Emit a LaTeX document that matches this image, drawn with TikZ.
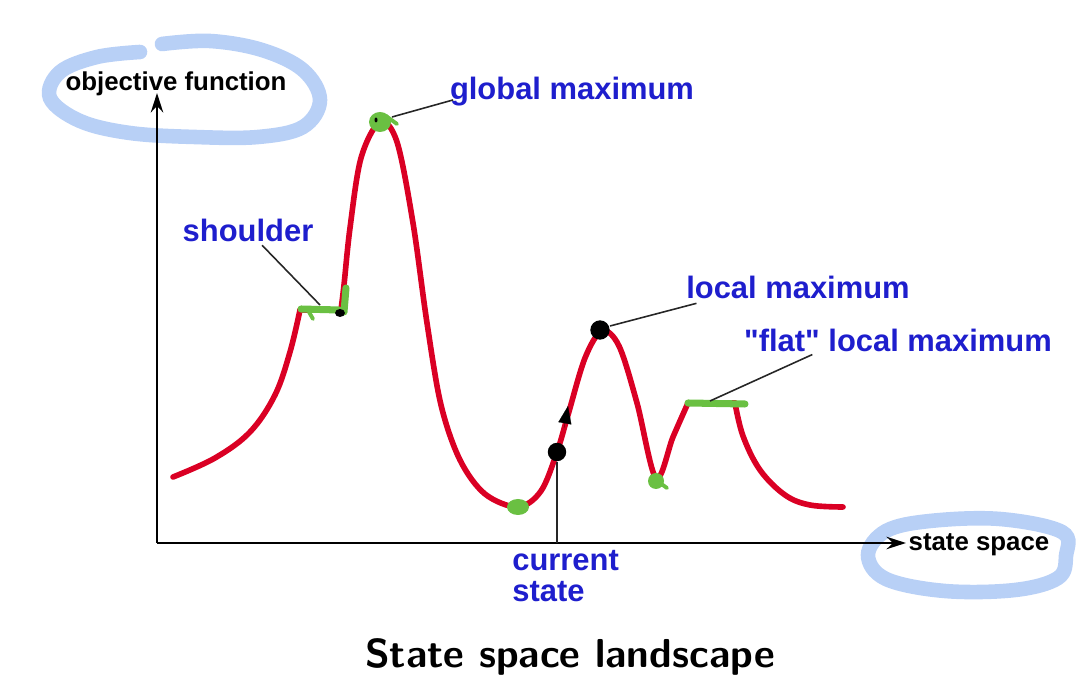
\documentclass[tikz,border=0pt]{standalone}
\usepackage{fontspec}
\setmainfont{Liberation Sans}
\usetikzlibrary{arrows.meta}
\definecolor{curvered}{RGB}{218,0,36}
\definecolor{labelblue}{RGB}{30,30,205}
\definecolor{hlgreen}{RGB}{106,192,66}
\definecolor{loopblue}{RGB}{184,208,246}
\begin{document}
\begin{tikzpicture}[x=0.02cm, y=-0.02cm,
    landscape/.style={curvered, line width=3.2pt, line cap=round, line join=round},
    axis/.style={black, line width=1.7pt, -{Stealth[length=11pt, width=7pt]}},
    loop/.style={loopblue, line width=8.3pt, line cap=round},
    pointer/.style={black!85, line width=0.9pt},
    greenstroke/.style={hlgreen, line width=4pt, line cap=round},
    dot/.style={circle, fill=black, inner sep=0pt, minimum size=10.5pt},
    bluelabel/.style={labelblue, inner sep=0pt, font=\bfseries\fontsize{17.6}{17.6}\selectfont},
    axislabel/.style={black, inner sep=0pt, font=\bfseries\fontsize{14.7}{16}\selectfont}]
    \useasboundingbox (0,0) rectangle (1076,688);

    % Coordinates
    \coordinate (O) at (157,543);
    \coordinate (ytip) at (157,93);
    \coordinate (xtip) at (906,543);
    \coordinate (gmaxpt) at (392,117);
    \coordinate (shpt) at (320,305);
    \coordinate (lmaxpt) at (610,326);
    \coordinate (flatpt) at (710,401);
    \coordinate (csfoot) at (557,543);

    % Hand drawn loops
    \draw[loop] plot[smooth, tension=0.6] coordinates {(162,44) (210,41) (262,50) (303,70) (320,100) (303,127) (258,137) (195,137) (130,133) (80,121) (50,98) (60,72) (97,57) (140,52)};
    \draw[loop] plot[smooth cycle, tension=0.6] coordinates {(1000,519) (930,521) (886,531) (868,555) (886,579) (945,591) (1015,590) (1058,578) (1066,556) (1062,532)};

    % Axes
    \draw[axis] (O) -- (ytip);
    \draw[axis] (O) -- (xtip);

    % Landscape
    \draw[landscape] plot[smooth, tension=0.6] coordinates {(173,477) (215,458) (250,432) (275,395) (290,352) (300,310)};
    \draw[landscape] (300,310) -- (341,310);
    \draw[landscape] plot[smooth, tension=0.55] coordinates {(341,310) (344,285) (350,228) (361,158) (380,122) (397,142) (413,223) (427,323) (441,405) (460,460) (485,494) (518,507) (541,491) (557,452) (568,415) (585,358) (602,331) (619,346) (637,403) (656,478) (673,437) (688,403)};
    \draw[landscape] (688,403) -- (735,403);
    \draw[landscape] plot[smooth, tension=0.6] coordinates {(735,403) (743,436) (760,470) (785,495) (810,505) (843,507)};

    % Green marks
    \fill[hlgreen] (380,122) ellipse (11 and 10);
    \draw[greenstroke, line width=2.2pt] (386,116) -- (397,124);
    \fill[black] (376,120) ellipse (1.5 and 2.5);
    \draw[greenstroke] (301,309) -- (339,310);
    \draw[greenstroke] (344,312) -- (346,288);
    \draw[greenstroke, line width=2.2pt] (309,312) -- (313,319);
    \fill[black] (340,313) ellipse (5 and 4);
    \fill[hlgreen] (518,507) ellipse (11 and 8);
    \fill[hlgreen] (656,481) ellipse (8 and 8);
    \draw[greenstroke, line width=2.2pt] (660,483) -- (667,488);
    \draw[greenstroke] (688,403) -- (745,404);

    % Current state and local maximum
    \node[dot] (cs) at (557,452) {};
    \node[dot, minimum size=11pt] (lmax) at (600,330) {};
    \draw[pointer, line width=1.2pt] (cs) -- (csfoot);
    \draw[black, line width=0.1pt, -{Triangle[length=10pt, width=7.5pt]}] (564,428) -- (568,406);

    % Labels
    \node[axislabel] (ylbl) at (176,84) {objective function};
    \node[axislabel] (xlbl) at (979,545) {state space};
    \node[bluelabel] (glbl) at (572,92) {global maximum};
    \node[bluelabel] (shlbl) at (248,230) {shoulder};
    \node[bluelabel] (lmlbl) at (798,287) {local maximum};
    \node[bluelabel] (flbl) at (898,340) {\textquotedbl flat\textquotedbl\ local maximum};
    \node[bluelabel, align=left, anchor=north west] (cslbl) at (512,550) {current\\state};
    \node[font=\sffamily\bfseries\fontsize{23}{28}\selectfont] (title) at (570,657) {State space landscape};

    % Pointers
    \draw[pointer] ([xshift=2pt]glbl.base west) -- (gmaxpt);
    \draw[pointer] ([xshift=8pt, yshift=-2pt]shlbl.south) -- (shpt);
    \draw[pointer] ([xshift=6pt, yshift=-3pt]lmlbl.base west) -- (lmaxpt);
    \draw[pointer] ([xshift=39pt, yshift=-2pt]flbl.base west) -- (flatpt);
  \end{tikzpicture}
\end{document}
